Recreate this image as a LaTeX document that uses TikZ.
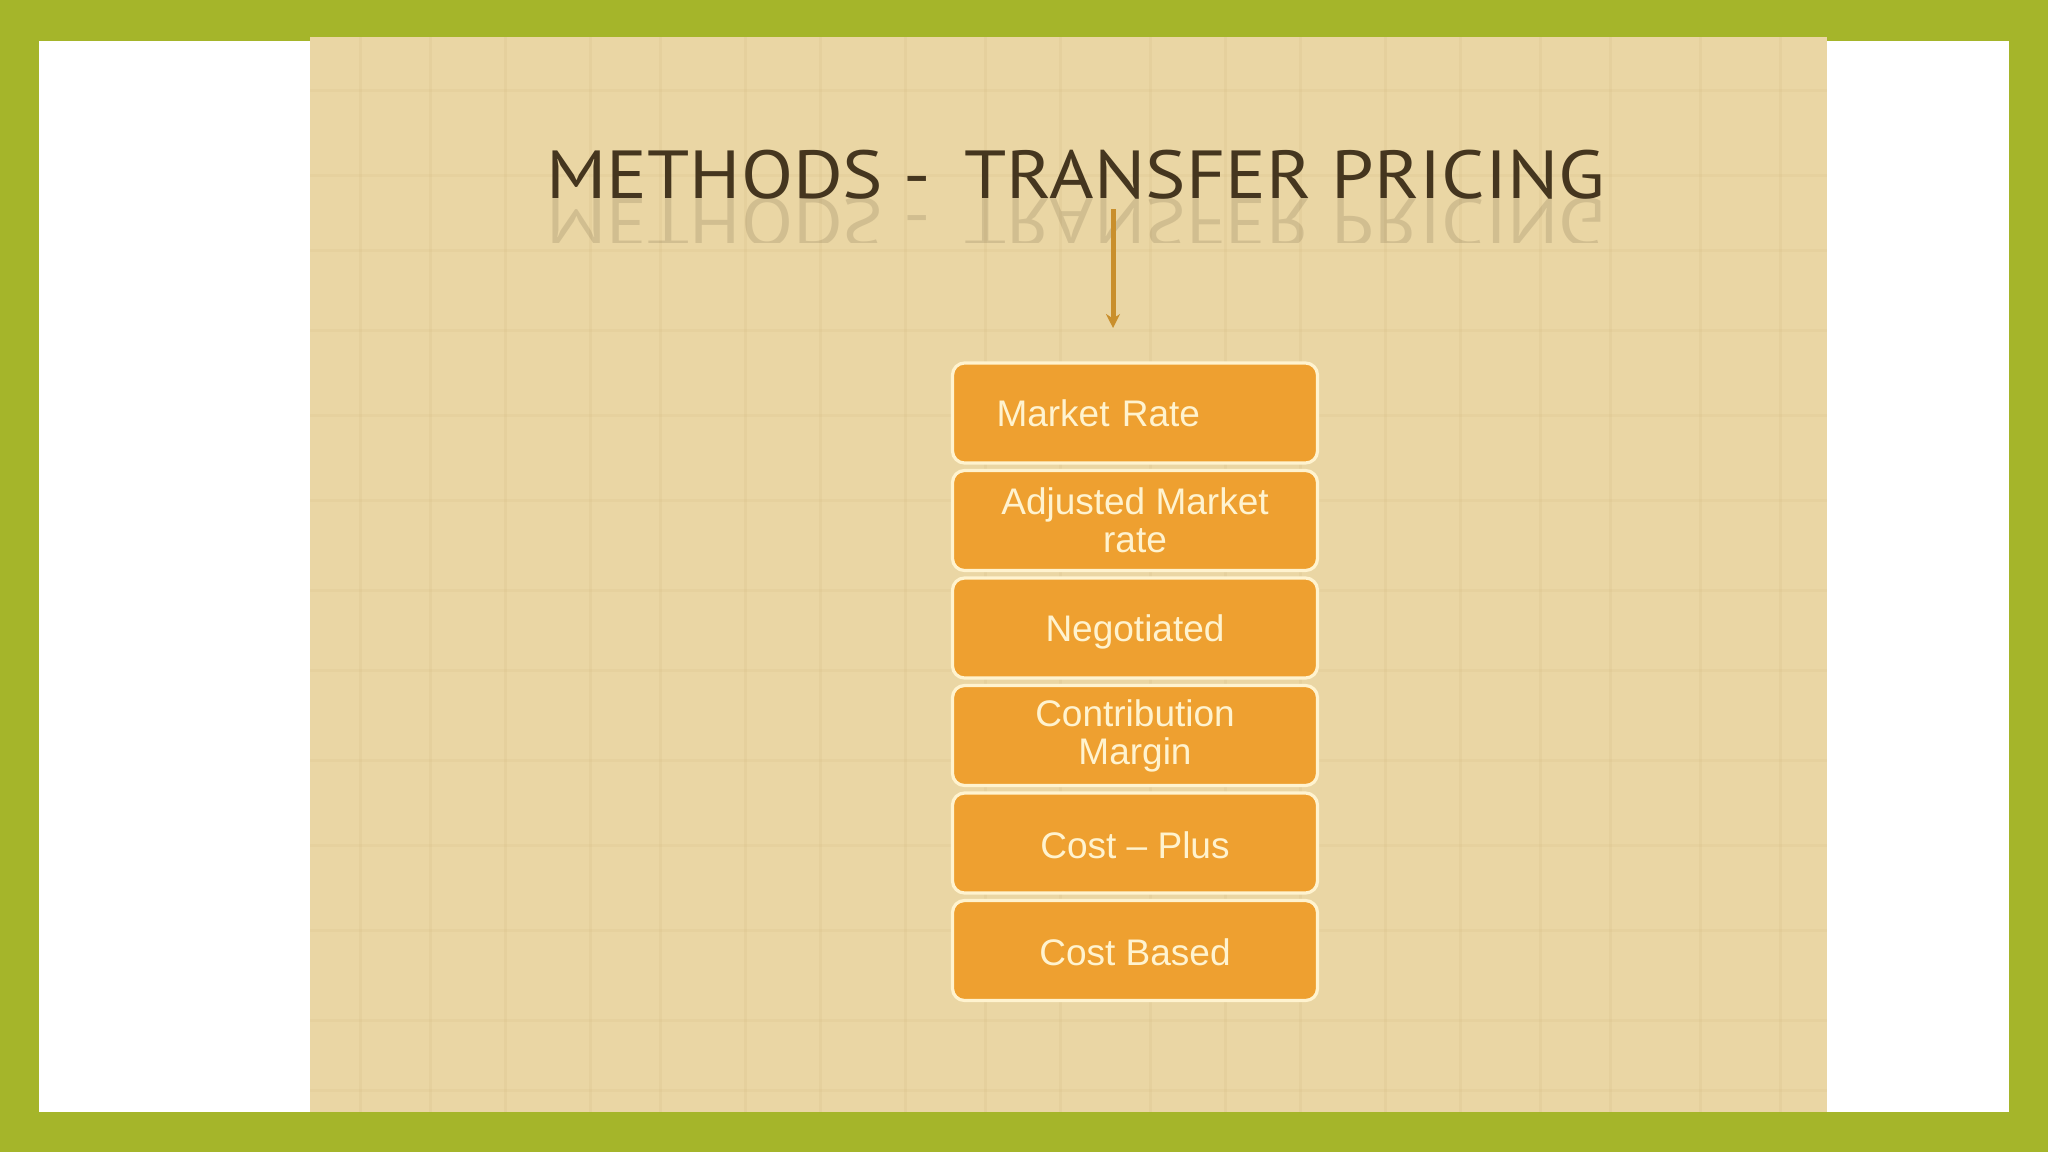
\documentclass[tikz,border=0pt]{standalone}
\usepackage{fontspec}
\setmainfont{Liberation Sans}
\newfontfamily\titlefont{PT Sans}
\usetikzlibrary{arrows.meta}
\definecolor{framegreen}{HTML}{A5B52A}
\definecolor{paper}{HTML}{EAD6A4}
\definecolor{paperline}{HTML}{D6BD88}
\definecolor{boxorange}{HTML}{EEA030}
\definecolor{boxcream}{HTML}{FFF3CF}
\definecolor{titlebrown}{HTML}{45361F}
\definecolor{arrowbrown}{HTML}{C98F2C}
\newcommand{\titletext}{\scalebox{1.12}[1]{METHODS -\, TRANSFER PRICING}}
\tikzset{
  titlestyle/.style={font=\titlefont\fontsize{34}{40}\selectfont, text=titlebrown, inner sep=0pt},
  methodbox/.style={draw=boxcream, line width=1.6pt, fill=boxorange, rounded corners=6pt,
    minimum width=182.5pt, minimum height=50pt, text=boxcream, align=center,
    font=\fontsize{18.5}{19}\selectfont, inner sep=2pt},
  leftbox/.style={methodbox, align=left, text width=138.5pt, inner xsep=22pt},
  connector/.style={draw=arrowbrown, line width=2.5pt, -{Stealth[length=7pt,width=7pt]}}
}
\begin{document}
\begin{tikzpicture}[x=0.5pt,y=-0.5pt]
\useasboundingbox (0,0) rectangle (2048,1152);
\fill[framegreen] (0,0) rectangle (2048,1152);
\fill[white] (39,41) rectangle (2009,1112);
\fill[paper] (310,37) rectangle (1827,1112);
% faint canvas texture
\foreach \xx in {360,430,505,590,660,745,820,905,985,1060,1150,1225,1300,1385,1460,1540,1610,1700,1780}
  \draw[paperline, opacity=0.22, line width=1.5pt] (\xx,37) -- (\xx,1112);
\foreach \yy in {90,175,250,330,415,500,590,670,760,845,930,1020,1090}
  \draw[paperline, opacity=0.2, line width=1.5pt] (310,\yy) -- (1827,\yy);
% title and reflection
\node[titlestyle, anchor=base] (title) at (1076,198) {\titletext};
\begin{scope}
  \clip (500,198) rectangle (1650,242);
  \begin{scope}[shift={(1076,198)}, yscale=-1]
    \node[titlestyle, anchor=base, transform shape, opacity=0.15] (reflection) at (0,0) {\titletext};
  \end{scope}
\end{scope}
% boxes
\node[leftbox] (b1) at (1135,413) {Market Rate};
\node[methodbox] (b2) at (1135,520.5) {Adjusted Market\\rate};
\node[methodbox, text depth=0pt] (b3) at (1135,628) {Negotiated};
\node[methodbox] (b4) at (1135,735.5) {Contribution\\Margin};
\node[methodbox, text depth=0pt] (b5) at (1135,843) {\raisebox{-2pt}{Cost -- Plus}};
\node[methodbox, text depth=0pt] (b6) at (1135,950.5) {\raisebox{-2pt}{Cost Based}};
% arrow
\coordinate (arrowstart) at (1113,209);
\coordinate (arrowend) at (1113,328);
\draw[connector] (arrowstart) -- (arrowend);
\end{tikzpicture}
\end{document}
